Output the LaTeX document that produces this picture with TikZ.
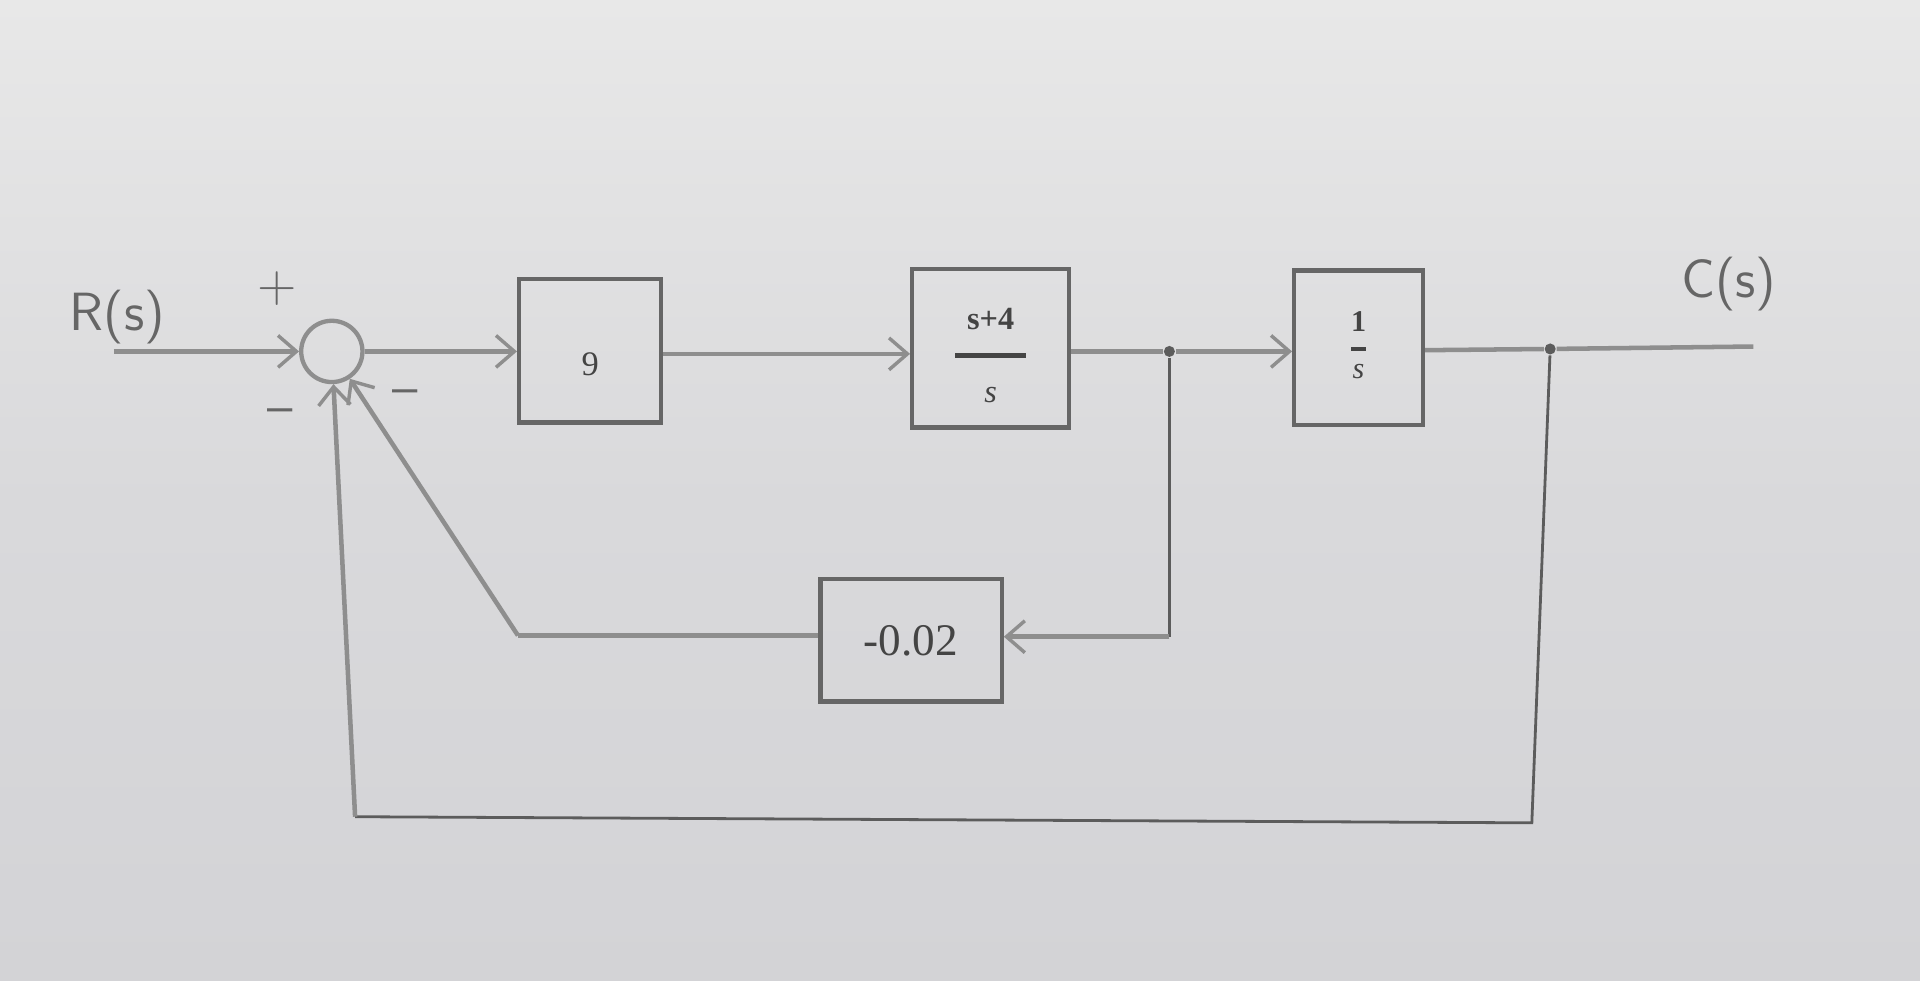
\documentclass[tikz,border=0pt]{standalone}
\usepackage{fontspec}
\setmainfont{Liberation Serif}
\usetikzlibrary{arrows.meta}
\definecolor{bgtop}{HTML}{E8E8E8}
\definecolor{bgbot}{HTML}{D3D3D6}
\definecolor{wirec}{HTML}{8E8E8E}
\definecolor{darkwire}{HTML}{5C5C5C}
\definecolor{boxc}{HTML}{666666}
\definecolor{txtc}{HTML}{444444}
\definecolor{handc}{HTML}{666666}
\begin{document}
\begin{tikzpicture}[x=0.01cm,y=-0.01cm,
  wire/.style={draw=wirec, line width=1.05pt},
  fbwire/.style={draw=darkwire, line width=0.65pt},
  sig/.style={-{Straight Barb[length=1.5mm,width=2.6mm,line width=0.8pt]}},
  blk/.style={draw=boxc, line width=1.0pt, inner sep=0pt, text=txtc},
  blktext/.style={text=txtc, inner sep=0pt, align=center},
  sumc/.style={circle, draw=wirec, line width=1.0pt, minimum size=0.50cm, inner sep=0pt},
  hand/.style={text=handc, font=\sffamily\fontsize{12.5}{12.5}\selectfont},
  sgn/.style={text=handc, font=\sffamily\fontsize{12}{12}\selectfont, inner sep=0pt},
  dotc/.style={circle, fill=darkwire, minimum size=0.09cm, inner sep=0pt}
]
\shade[top color=bgtop, bottom color=bgbot, middle color=bgbot!70!bgtop] (0,0) rectangle (1568,801);
\useasboundingbox (0,0) rectangle (1568,801);

% labels
\node[hand] (R) at (96,259) {R(s)};
\node[hand] (C) at (1412,232) {C(s)};
\node[sgn] (plus) at (226,236) {+};
\node[sgn] (minusL) at (229,340) {–};
\node[sgn] (minusR) at (331,325) {–};

% blocks
\node[sumc] (sum) at (271,287) {};
\node[blk, minimum width=1.16cm, minimum height=1.17cm,
  label={[blktext, font=\fontsize{8}{8}\selectfont, yshift=-0.11cm]center:9}] (b9) at (482,286.5) {};
\node[blk, minimum width=1.28cm, minimum height=1.29cm,
  label={[blktext, font=\fontsize{7.5}{8.5}\selectfont, yshift=-0.06cm]center:{\raisebox{2pt}{\textbf{s+4}}\\[-4pt]\rule{0.58cm}{1.1pt}\\[2pt]\textit{s}}}] (b2) at (809,284.5) {};
\node[blk, minimum width=1.05cm, minimum height=1.26cm,
  label={[blktext, font=\fontsize{7}{7.5}\selectfont, yshift=0.02cm]center:{\textbf{1}\\[-3pt]\rule{0.12cm}{0.8pt}\\[-1pt]\textit{s}}}] (b3) at (1109.5,284) {};
\node[blk, minimum width=1.48cm, minimum height=1.00cm, font=\fontsize{10.5}{10.5}\selectfont] (b4) at (744,523) {-0.02};

% coordinates
\coordinate (in) at (93,287);
\coordinate (out) at (1432,283);
\node[dotc] (d1) at (955,287) {};
\node[dotc] (d2) at (1266,285) {};
\coordinate (k1) at (955,520);
\coordinate (k2) at (423,519);
\coordinate (k3) at (1251,672);
\coordinate (k4) at (290,667);

% forward path
\draw[wire, sig] (in) -- (sum.west);
\draw[wire, sig] (sum.east) -- (b9.west |- 0,287);
\draw[wire, sig] (b9.east |- 0,289) -- (b2.west |- 0,289);
\draw[wire] (b2.east |- 0,287) -- (d1);
\draw[wire, sig] (d1) -- (b3.west |- 0,287);
\draw[wire] (b3.east |- 0,286) -- (d2) -- (out);

% inner feedback
\draw[fbwire] (d1) -- (k1);
\draw[wire, sig] (k1) -- (b4.east |- 0,520);
\draw[wire] (b4.west |- 0,519) -- (k2);
\draw[wire, sig] (k2) -- (sum);

% outer feedback
\draw[fbwire] (d2) -- (k3) -- (k4);
\draw[wire, sig] (k4) -- (sum);
\end{tikzpicture}
\end{document}
